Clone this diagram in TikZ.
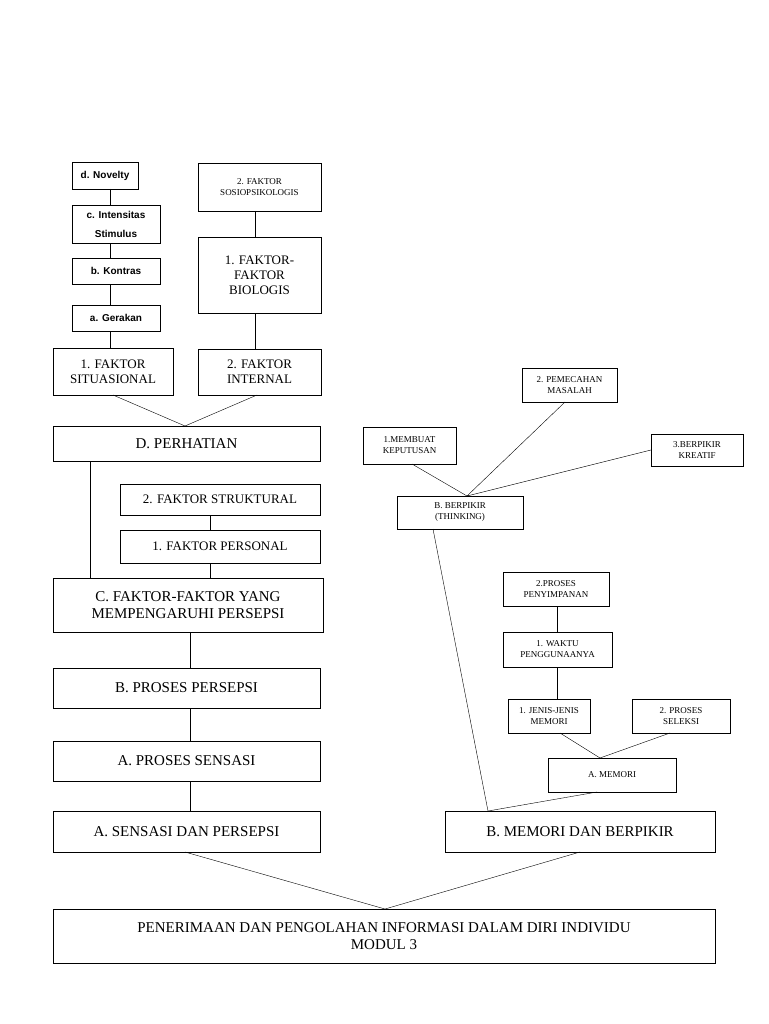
\documentclass[tikz,border=0pt]{standalone}
\usepackage{fontspec}
\setmainfont{Liberation Serif}
\newfontfamily\sansb{Liberation Sans}
\begin{document}
\begin{tikzpicture}[x=1pt,y=-1pt,
 bx/.style={draw,thin,align=center,inner sep=0pt,font=\fontsize{15}{17}\selectfont},
 sm/.style={draw,thin,align=center,inner sep=0pt,font=\fontsize{9}{11}\selectfont},
 sb/.style={draw,thin,align=center,inner sep=0pt,font=\sansb\bfseries\fontsize{10}{19}\selectfont},
 md/.style={draw,thin,align=center,inner sep=0pt,font=\fontsize{13}{15}\selectfont},
 ln/.style={thin}]
\useasboundingbox (0,0) rectangle (768,1024);
\newcommand\bxat[6]{\node[#1,minimum width=#4-#2,minimum height=#5-#3] (#6) at ({(#2+#4)/2},{(#3+#5)/2})}
\bxat{sb}{72}{162}{138}{189}{nov} {d. Novelty};
\bxat{sb}{72}{205}{160}{243}{int} {c. Intensitas\\Stimulus};
\bxat{sb}{72}{258}{160}{284}{kon} {b. Kontras};
\bxat{sb}{72}{305}{160}{331}{ger} {a. Gerakan};
\bxat{md}{53}{348}{173}{395}{sit} {1. FAKTOR\\SITUASIONAL};
\bxat{sm}{198}{163}{321}{211}{sos} {2. FAKTOR\\SOSIOPSIKOLOGIS};
\bxat{md}{198}{237}{321}{313}{bio} {1. FAKTOR-\\FAKTOR\\BIOLOGIS};
\bxat{md}{198}{349}{321}{395}{inr} {2. FAKTOR\\INTERNAL};
\bxat{bx}{53}{426}{320}{461}{per} {D. PERHATIAN};
\bxat{md}{120}{484}{320}{515}{str} {2. FAKTOR STRUKTURAL};
\bxat{md}{120}{530}{320}{563}{pers} {1. FAKTOR PERSONAL};
\bxat{bx}{53}{578}{323}{632}{fak} {C. FAKTOR-FAKTOR YANG\\MEMPENGARUHI PERSEPSI};
\bxat{bx}{53}{668}{320}{708}{pp} {B. PROSES PERSEPSI};
\bxat{bx}{53}{741}{320}{781}{ps} {A. PROSES SENSASI};
\bxat{bx}{53}{811}{320}{852}{sp} {A. SENSASI DAN PERSEPSI};
\bxat{bx}{53}{909}{715}{963}{pen} {PENERIMAAN DAN PENGOLAHAN INFORMASI DALAM DIRI INDIVIDU\\MODUL 3};
\bxat{sm}{522}{368}{617}{402}{pm} {2. PEMECAHAN\\MASALAH};
\bxat{sm}{363}{427}{456}{464}{mk} {1.MEMBUAT\\KEPUTUSAN};
\bxat{sm}{651}{434}{743}{466}{bk} {3.BERPIKIR\\KREATIF};
\bxat{sm}{397}{496}{523}{529}{bt} {B. BERPIKIR\\(THINKING)};
\bxat{sm}{503}{572}{609}{606}{py} {2.PROSES\\PENYIMPANAN};
\bxat{sm}{503}{632}{612}{667}{wk} {1. WAKTU\\PENGGUNAANYA};
\bxat{sm}{508}{699}{590}{733}{jm} {1. JENIS-JENIS\\MEMORI};
\bxat{sm}{632}{699}{730}{733}{sl} {2. PROSES\\SELEKSI};
\bxat{sm}{548}{758}{676}{792}{me} {A. MEMORI};
\bxat{bx}{445}{811}{715}{852}{mb} {B. MEMORI DAN BERPIKIR};
\coordinate (perT) at (185,426);
\coordinate (penT) at (385,909);
\coordinate (btT) at (467,496);
\coordinate (meT) at (600,758);
\coordinate (mbT) at (488,811);
\draw[ln] (110,189)--(110,205) (110,243)--(110,258) (110,284)--(110,305) (110,331)--(110,348);
\draw[ln] (255,211)--(255,237) (255,313)--(255,349);
\draw[ln] (113,395)--(perT)--(257,395);
\draw[ln] (90,461)--(90,578);
\draw[ln] (210,515)--(210,530) (210,563)--(210,578);
\draw[ln] (190,632)--(190,668) (190,708)--(190,741) (190,781)--(190,811);
\draw[ln] (185,852)--(penT)--(580,852);
\draw[ln] (412,464)--(btT) (565,402)--(btT) (651,450)--(btT);
\draw[ln] (433,529)--(mbT);
\draw[ln] (557,606)--(557,632) (557,667)--(557,699);
\draw[ln] (560,733)--(meT)--(670,733);
\draw[ln] (597,792)--(mbT);
\end{tikzpicture}
\end{document}
